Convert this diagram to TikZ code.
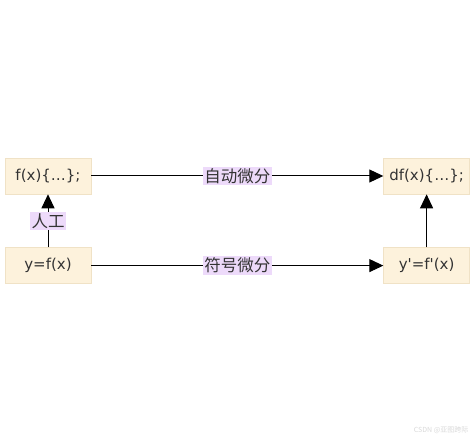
\documentclass[tikz,border=0pt]{standalone}
\usepackage{fontspec}
\newfontfamily\vera{DejaVu Sans}
\newfontfamily\cjk{Noto Sans CJK SC}
\usetikzlibrary{arrows.meta, positioning}

\definecolor{boxfill}{HTML}{FDF2DC}
\definecolor{boxline}{HTML}{F0E2C6}
\definecolor{labelfill}{HTML}{EDDAFA}
\definecolor{ink}{HTML}{333333}

\begin{document}
\begin{tikzpicture}[x=1pt, y=-1pt, node distance=53pt and 292pt, font=\vera\fontsize{15}{18}\selectfont, text=ink]
        \tikzstyle{block} = [rectangle, draw=boxline, fill=boxfill, line width=0.6pt,
            minimum width=86pt, minimum height=36pt, inner sep=2pt]
        \tikzstyle{line} = [draw, line width=1pt, -{Triangle[length=14pt, width=13pt]}]
        \tikzstyle{tag} = [fill=labelfill, inner sep=1.5pt, font=\cjk\fontsize{16.5}{19}\selectfont]

        \useasboundingbox (0,0) rectangle (474,441);

        \node [block] (code) at (48,176) {f(x)\{\ldots\};};
        \node [block, below=of code] (func) {y=f(x)};
        \node [block, right=of code] (dcode) {df(x)\{\ldots\};};
        \node [block, right=of func] (deriv) {y'=f'(x)};

        \path [line] (code) -- node [tag] {自动微分} (dcode);
        \path [line] (func) -- node [tag] {符号微分} (deriv);
        \path [line] (func) -- node [tag] {人工} (code);
        \path [line] (deriv) -- (dcode);

        \node [anchor=east, text=black!15, font=\cjk\fontsize{7}{8}\selectfont] (mark) at (472,430) {CSDN @亚图跨际};
    \end{tikzpicture}
\end{document}
